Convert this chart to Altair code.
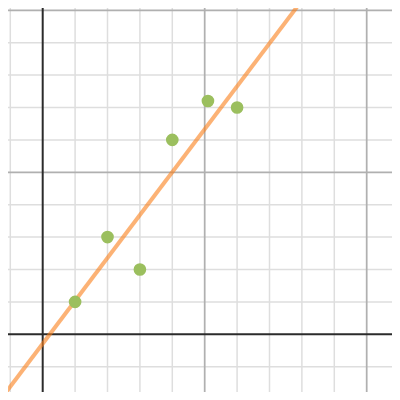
import altair as alt
import pandas as pd

# data points
xs = [1, 2, 3, 4, 5.1, 6]
ys = [1, 3, 2, 6, 7.2, 7]

# grid positions
grid_x = list(range(-1, 12))
grid_y = list(range(-2, 11))

XDOM = [-1.071, 10.781]
YDOM = [-1.781, 10.071]

pts = pd.DataFrame({"x": xs, "y": ys})
gx = pd.DataFrame({"v": grid_x})
gy = pd.DataFrame({"v": grid_y})

xsc = alt.Scale(domain=XDOM, nice=False, zero=False)
ysc = alt.Scale(domain=YDOM, nice=False, zero=False)
noax = None

def kind_expr():
    return "datum.v == 0 ? 'axis' : (datum.v % 5 == 0 ? 'major' : 'minor')"

kscale = alt.Scale(domain=["minor", "major", "axis"], range=["#dedede", "#b0b0b0", "#2b2b2b"])
wscale = alt.Scale(domain=["minor", "major", "axis"], range=[1.5, 2, 2])

vlines = alt.Chart(gx).transform_calculate(k=kind_expr()).mark_rule(clip=True).encode(
    x=alt.X("v:Q", scale=xsc, axis=noax),
    color=alt.Color("k:N", scale=kscale, legend=None),
    strokeWidth=alt.StrokeWidth("k:N", scale=wscale, legend=None),
)
hlines = alt.Chart(gy).transform_calculate(k=kind_expr()).mark_rule(clip=True).encode(
    y=alt.Y("v:Q", scale=ysc, axis=noax),
    color=alt.Color("k:N", scale=kscale, legend=None),
    strokeWidth=alt.StrokeWidth("k:N", scale=wscale, legend=None),
)

minor_v = vlines.transform_filter("datum.k == 'minor'")
minor_h = hlines.transform_filter("datum.k == 'minor'")
major_v = vlines.transform_filter("datum.k == 'major'")
major_h = hlines.transform_filter("datum.k == 'major'")
axis_v = vlines.transform_filter("datum.k == 'axis'")
axis_h = hlines.transform_filter("datum.k == 'axis'")

fit = alt.Chart(pts).transform_regression("x", "y", extent=[-3, 13]).mark_line(
    color="#fa7e19", strokeOpacity=0.6, strokeWidth=4, clip=True
).encode(
    x=alt.X("x:Q", scale=xsc, axis=noax),
    y=alt.Y("y:Q", scale=ysc, axis=noax),
)

dots = alt.Chart(pts).mark_circle(size=160, color="#9bbf5e", opacity=1, clip=True).encode(
    x=alt.X("x:Q", scale=xsc, axis=noax),
    y=alt.Y("y:Q", scale=ysc, axis=noax),
)

chart = alt.layer(minor_v, minor_h, major_v, major_h, axis_v, axis_h, fit, dots).properties(
    width=384, height=384, padding=0
).configure_view(stroke=None).resolve_scale(color="shared")

chart.save("out.html", embed_options={"renderer": "svg", "actions": False})
